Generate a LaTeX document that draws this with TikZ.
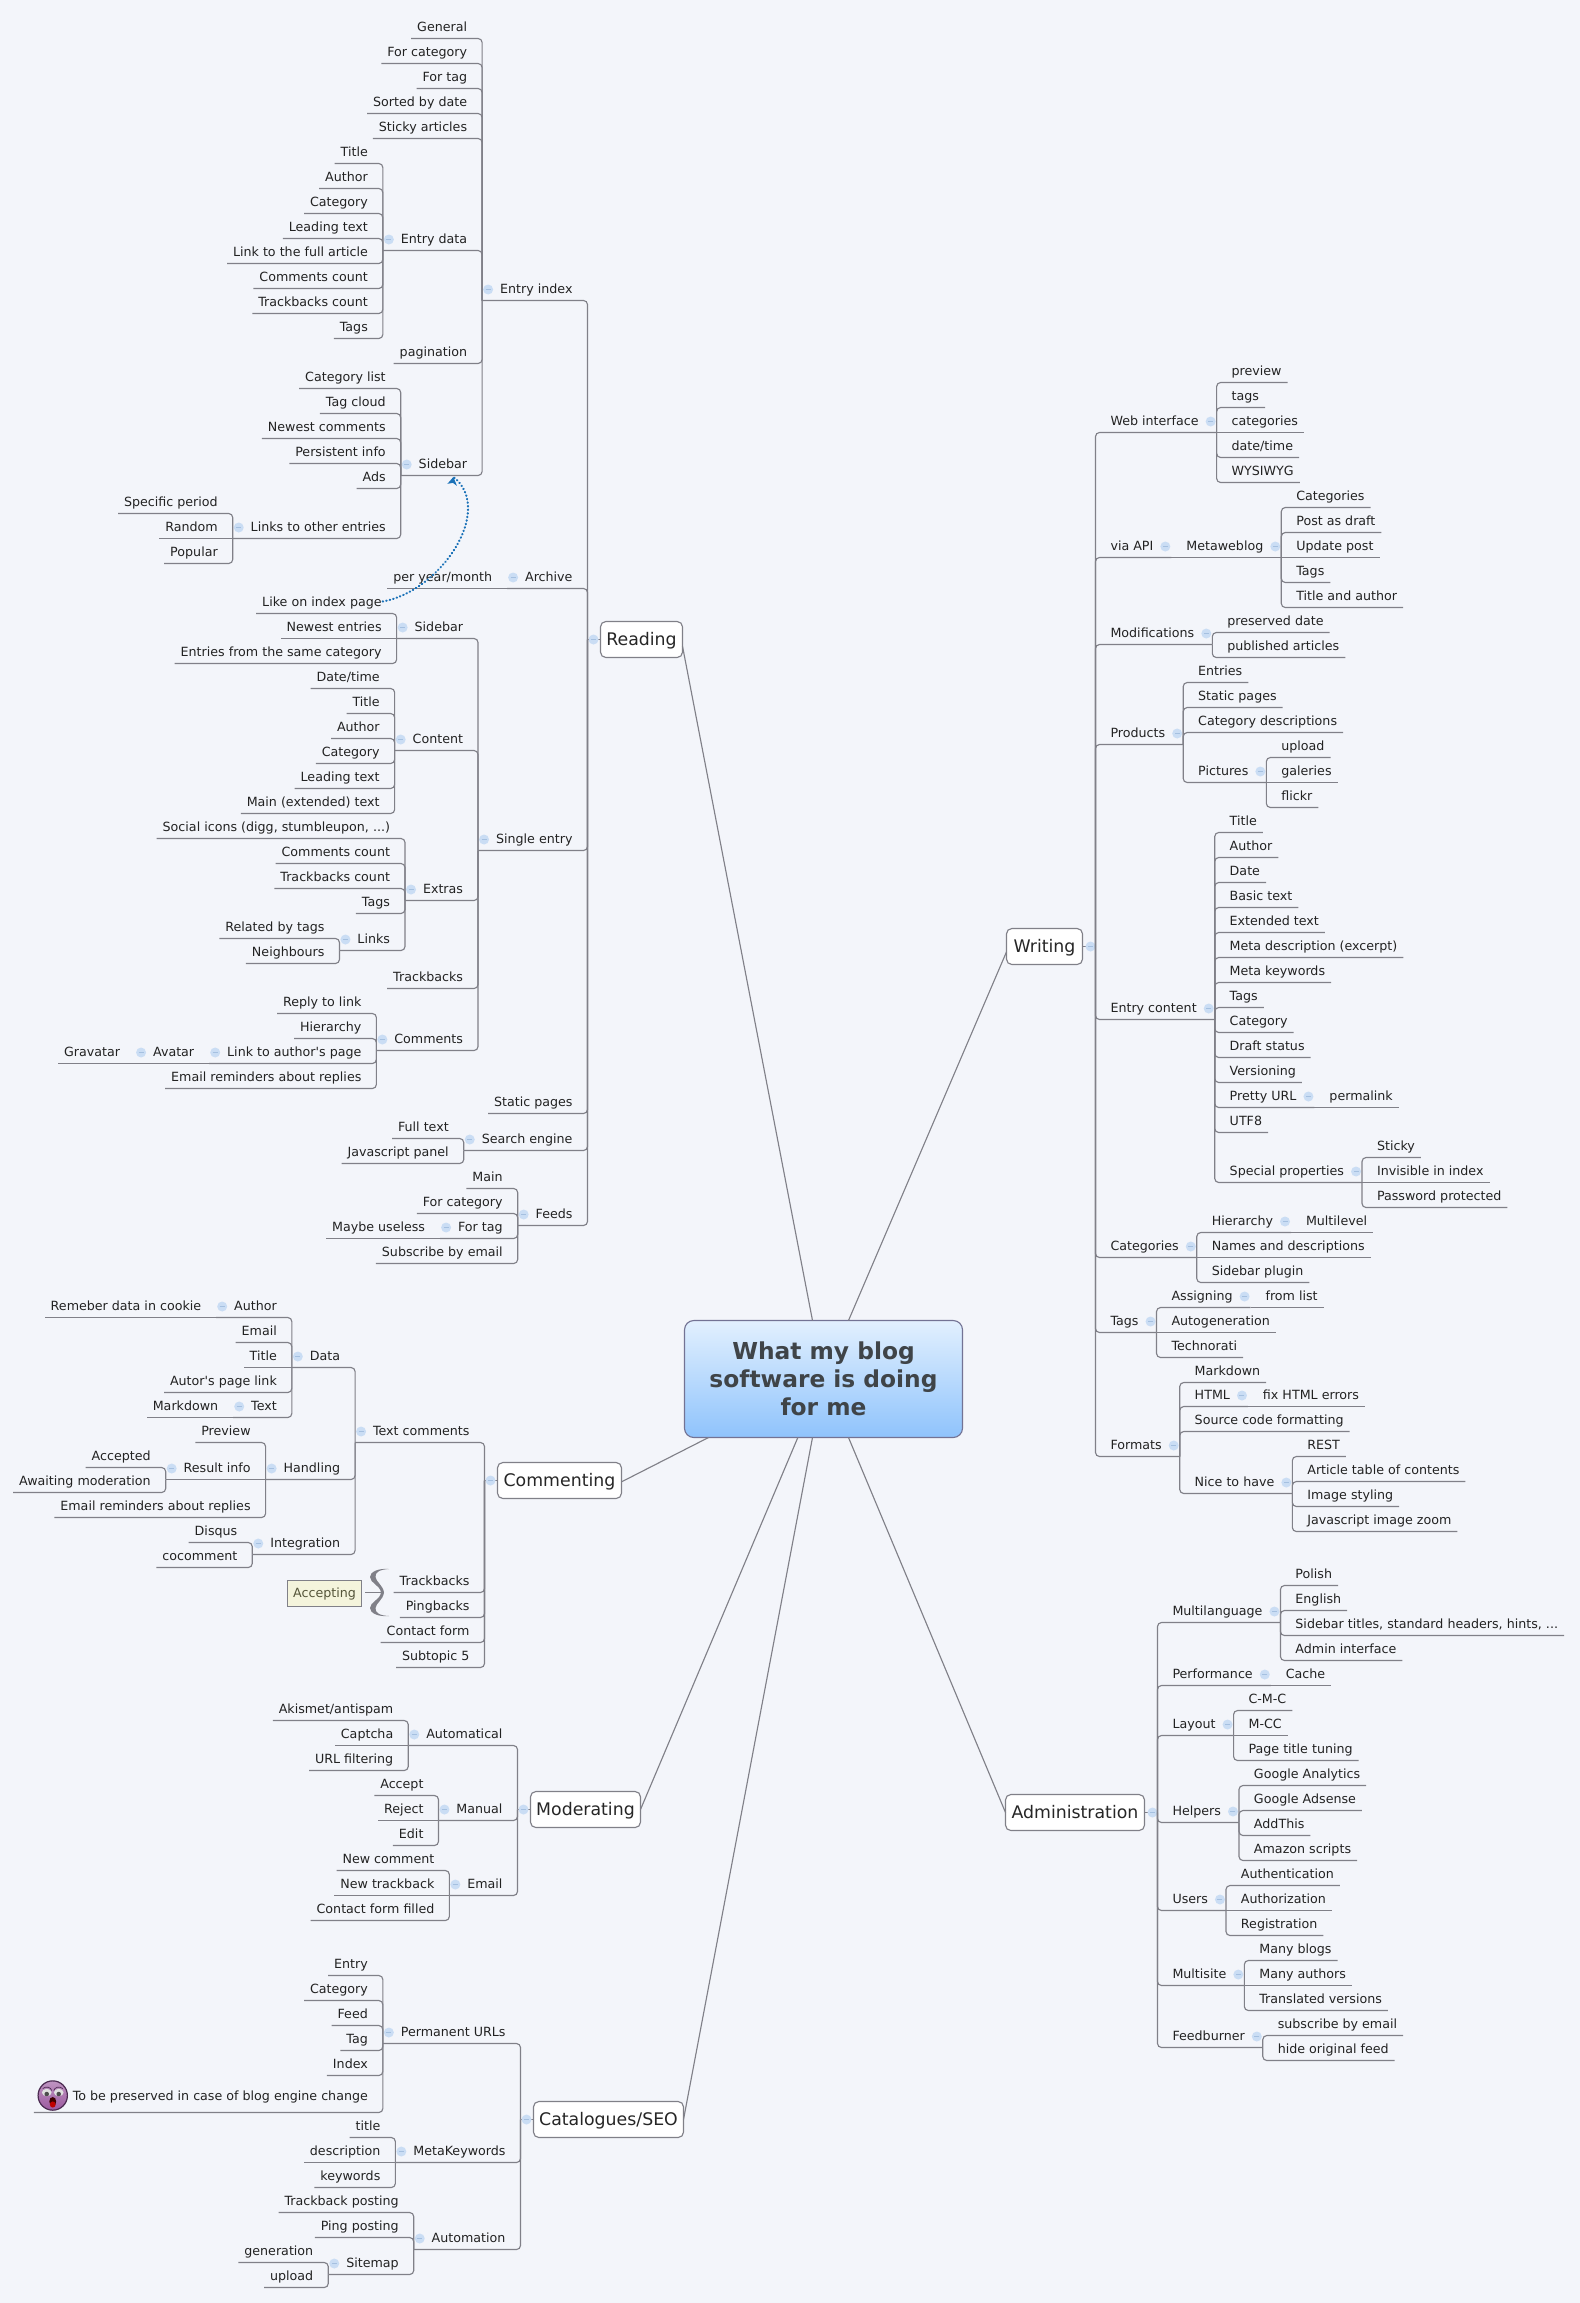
\documentclass[tikz,border=0pt]{standalone}
\usepackage{fontspec}
\setmainfont{DejaVu Sans}[Ligatures=TeXOff]
\usetikzlibrary{calc}
\definecolor{bgc}{HTML}{F3F5FA}
\definecolor{linec}{HTML}{808088}
\definecolor{txt}{HTML}{222222}
\definecolor{icn}{HTML}{CADDF4}
\definecolor{icm}{HTML}{A5C0E0}
\definecolor{arr}{HTML}{1B72B8}
\definecolor{rootT}{HTML}{E2F0FE}
\definecolor{rootB}{HTML}{8FC3FC}
\definecolor{rootx}{HTML}{3F4448}
\definecolor{calf}{HTML}{F4F4DC}
\definecolor{calx}{HTML}{55553A}
\definecolor{smf}{HTML}{9C5AA0}
\definecolor{smr}{HTML}{4A2A50}
\tikzset{
  conn/.style={draw=linec,line width=0.85pt,rounded corners=3pt},
  lf/.style={inner sep=0pt,outer sep=0pt,text height=10.5pt,text depth=5.25pt,font=\fontsize{9.5}{12}\selectfont,text=txt},
  pt/.style={inner sep=0pt,outer sep=0pt,minimum size=0pt},
  topb/.style={draw=linec,fill=white,line width=0.85pt,rounded corners=4pt,inner sep=0pt,outer sep=0pt,text height=10pt,text depth=1pt,font=\fontsize{13}{15}\selectfont,text=black!85},
  rootb/.style={draw=linec!90!blue,line width=0.85pt,rounded corners=7pt,top color=rootT,bottom color=rootB,inner sep=0pt,outer sep=0pt,align=center,font=\fontsize{17.5}{21}\selectfont\bfseries,text=rootx,minimum width=208.5pt,minimum height=87.75pt},
  callout/.style={draw=linec,fill=calf,line width=0.75pt,inner sep=0pt,outer sep=0pt,minimum width=55.5pt,minimum height=19.5pt,font=\fontsize{9.5}{12}\selectfont,text=calx},
}
\newdimen\dya \newdimen\dyb
% joint from a parent to a child: straight when both underlines are on one level
\newcommand{\joint}[3]{\pgfextracty\dya{\pgfpointanchor{#1}{#3}}\pgfextracty\dyb{\pgfpointanchor{#2}{#3}}\advance\dya by -\dyb
  \ifdim\dya<0pt \dya=-\dya\fi
  \ifdim\dya<0.3pt \draw[conn] (#1.#3) -- (#2.#3);\else \draw[conn] (#1.#3) |- (#2.#3);\fi}
% width of a node, rounded up to whole pixels: {text}{side spaces in pt}
\newcommand{\pxw}[2]{\sbox0{\fontsize{9.5}{12}\selectfont #1}\pgfmathsetmacro\nw{ceil((\the\wd0+#2)/0.75)*0.75}}
% left leaf / left parent / right leaf / right parent: {name}{parent}{y of underline}{text}
\newcommand{\tl}[4]{\node[lf,anchor=south east] (#1) at (#2.south west |- 0,#3+0.5) {\kern4.5pt #4\kern11.25pt};
  \joint{#2}{#1}{south west}}
\newcommand{\tr}[4]{\node[lf,anchor=south west] (#1) at (#2.south east |- 0,#3+0.5) {\kern11.25pt #4\kern4.5pt};
  \joint{#2}{#1}{south east}}
\newcommand{\pl}[4]{\pxw{#4}{24.75}\node[lf,anchor=south east,minimum width=\nw pt] (#1) at (#2.south west |- 0,#3+0.5) {\kern13.5pt #4\kern11.25pt};
  \joint{#2}{#1}{south west}
  \fill[icn] ($(#1.south west)+(6,-11)$) circle (3.75pt);
  \draw[icm,line width=0.5pt] ($(#1.south west)+(3.5,-11)$) -- ($(#1.south west)+(8.5,-11)$);}
\newcommand{\pr}[4]{\pxw{#4}{24.75}\node[lf,anchor=south west,minimum width=\nw pt] (#1) at (#2.south east |- 0,#3+0.5) {\kern11.25pt #4\kern13.5pt};
  \joint{#2}{#1}{south east}
  \fill[icn] ($(#1.south east)+(-6,-11)$) circle (3.75pt);
  \draw[icm,line width=0.5pt] ($(#1.south east)+(-3.5,-11)$) -- ($(#1.south east)+(-8.5,-11)$);}
\newcommand{\bic}[2]{\fill[icn] ($(#1)+(#2,0)$) circle (3.75pt);
  \draw[icm,line width=0.5pt] ($(#1)+(#2,0)+(-2.5,0)$) -- ($(#1)+(#2,0)+(2.5,0)$);}
\begin{document}
\begin{tikzpicture}[x=0.75pt,y=-0.75pt]
\useasboundingbox (0,0) rectangle (1580,2303);
\fill[bgc] (0,0) rectangle (1580,2303);
% root and main topics
\node[rootb] (root) at (823.5,1379) {What my blog\\software is doing\\for me};
\node[topb,minimum width=61.5pt,minimum height=27pt] (reading) at (641.5,639.5) {Reading};
\node[topb,minimum width=57pt,minimum height=27pt] (writing) at (1044.5,946.5) {Writing};
\node[topb,minimum width=93pt,minimum height=27pt] (commenting) at (559.5,1480.5) {Commenting};
\node[topb,minimum width=82.5pt,minimum height=27pt] (moderating) at (585.5,1809.5) {Moderating};
\node[topb,minimum width=112.5pt,minimum height=27pt] (catalogues) at (608.5,2119.5) {Catalogues/SEO};
\node[topb,minimum width=104.25pt,minimum height=27pt] (administration) at (1075,1812.5) {Administration};
\draw[conn] ([yshift=-5pt]reading.east) -- ([xshift=96pt]root.north west);
\draw[conn] ([yshift=-4pt]writing.west) -- ([xshift=123pt]root.north west);
\draw[conn] ([yshift=-1pt]commenting.east) -- ([xshift=18pt]root.south west);
\draw[conn] (moderating.east) -- ([xshift=85pt]root.south west);
\draw[conn] (catalogues.east) -- ([xshift=96pt]root.south west);
\draw[conn] (administration.west) -- ([xshift=123pt]root.south west);
% bars of the main topics
\node[pt] (Rb) at (587.5,639.5) {};
\node[pt] (Wb) at (1095.5,946.5) {};
\node[pt] (Cb) at (484.5,1480.5) {};
\node[pt] (Mb) at (517.5,1809.5) {};
\node[pt] (Sb) at (520.5,2119.5) {};
\node[pt] (Ab) at (1157.5,1812.5) {};
\draw[conn] (Rb) -- (reading.west); \bic{Rb}{6}
\draw[conn] (Wb) -- (writing.east); \bic{Wb}{-5}
\draw[conn] (Cb) -- (commenting.west); \bic{Cb}{6}
\draw[conn] (Mb) -- (moderating.west); \bic{Mb}{6}
\draw[conn] (Sb) -- (catalogues.west); \bic{Sb}{6}
\draw[conn] (Ab) -- (administration.east); \bic{Ab}{-5}
% Reading
\pl{ei}{Rb}{300}{Entry index}
\tl{ei1}{ei}{38}{General}
\tl{ei2}{ei}{63}{For category}
\tl{ei3}{ei}{88}{For tag}
\tl{ei4}{ei}{113}{Sorted by date}
\tl{ei5}{ei}{138}{Sticky articles}
\pl{ed}{ei}{250}{Entry data}
\tl{ed1}{ed}{163}{Title}
\tl{ed2}{ed}{188}{Author}
\tl{ed3}{ed}{213}{Category}
\tl{ed4}{ed}{238}{Leading text}
\tl{ed5}{ed}{263}{Link to the full article}
\tl{ed6}{ed}{288}{Comments count}
\tl{ed7}{ed}{313}{Trackbacks count}
\tl{ed8}{ed}{338}{Tags}
\tl{ei7}{ei}{363}{pagination}
\pl{sb}{ei}{475}{Sidebar}
\tl{sb1}{sb}{388}{Category list}
\tl{sb2}{sb}{413}{Tag cloud}
\tl{sb3}{sb}{438}{Newest comments}
\tl{sb4}{sb}{463}{Persistent info}
\tl{sb5}{sb}{488}{Ads}
\pl{lo}{sb}{538}{Links to other entries}
\tl{lo1}{lo}{513}{Specific period}
\tl{lo2}{lo}{538}{Random}
\tl{lo3}{lo}{563}{Popular}
\pl{ar}{Rb}{588}{Archive}
\tl{ar1}{ar}{588}{per year/month}
\pl{se}{Rb}{850}{Single entry}
\pl{ss}{se}{638}{Sidebar}
\tl{ss1}{ss}{613}{Like on index page}
\tl{ss2}{ss}{638}{Newest entries}
\tl{ss3}{ss}{663}{Entries from the same category}
\pl{co}{se}{750}{Content}
\tl{co1}{co}{688}{Date/time}
\tl{co2}{co}{713}{Title}
\tl{co3}{co}{738}{Author}
\tl{co4}{co}{763}{Category}
\tl{co5}{co}{788}{Leading text}
\tl{co6}{co}{813}{Main (extended) text}
\pl{ex}{se}{900}{Extras}
\tl{ex1}{ex}{838}{Social icons (digg, stumbleupon, ...)}
\tl{ex2}{ex}{863}{Comments count}
\tl{ex3}{ex}{888}{Trackbacks count}
\tl{ex4}{ex}{913}{Tags}
\pl{li}{ex}{950}{Links}
\tl{li1}{li}{938}{Related by tags}
\tl{li2}{li}{963}{Neighbours}
\tl{se4}{se}{988}{Trackbacks}
\pl{cm}{se}{1050}{Comments}
\tl{cm1}{cm}{1013}{Reply to link}
\tl{cm2}{cm}{1038}{Hierarchy}
\pl{cm3}{cm}{1063}{Link to author's page}
\pl{av}{cm3}{1063}{Avatar}
\tl{gr}{av}{1063}{Gravatar}
\tl{cm4}{cm}{1088}{Email reminders about replies}
\tl{sp}{Rb}{1113}{Static pages}
\pl{sg}{Rb}{1150}{Search engine}
\tl{sg1}{sg}{1138}{Full text}
\tl{sg2}{sg}{1163}{Javascript panel}
\pl{fe}{Rb}{1225}{Feeds}
\tl{fe1}{fe}{1188}{Main}
\tl{fe2}{fe}{1213}{For category}
\pl{fe3}{fe}{1238}{For tag}
\tl{fe31}{fe3}{1238}{Maybe useless}
\tl{fe4}{fe}{1263}{Subscribe by email}
\draw[arr,line width=1.6pt,dash pattern=on 0.4pt off 2.3pt,line cap=round] ([xshift=-10.5pt,yshift=9pt]ss1.south east) .. controls +(58,-10) and (495,510) .. ([xshift=9pt,yshift=-1pt]sb.south);
\fill[arr] ([xshift=9pt,yshift=-1pt]sb.south) -- +(3.5,9) -- +(-0.5,6) -- +(-6,7) -- cycle;
% Commenting
\pl{tc}{Cb}{1442}{Text comments}
\pl{da}{tc}{1367}{Data}
\pl{da1}{da}{1317}{Author}
\tl{da11}{da1}{1317}{Remeber data in cookie}
\tl{da2}{da}{1342}{Email}
\tl{da3}{da}{1367}{Title}
\tl{da4}{da}{1392}{Autor's page link}
\pl{da5}{da}{1417}{Text}
\tl{da51}{da5}{1417}{Markdown}
\pl{ha}{tc}{1479}{Handling}
\tl{ha1}{ha}{1442}{Preview}
\pl{ha2}{ha}{1479}{Result info}
\tl{ha21}{ha2}{1467}{Accepted}
\tl{ha22}{ha2}{1492}{Awaiting moderation}
\tl{ha3}{ha}{1517}{Email reminders about replies}
\pl{in}{tc}{1554}{Integration}
\tl{in1}{in}{1542}{Disqus}
\tl{in2}{in}{1567}{cocomment}
\tl{c2}{Cb}{1592}{Trackbacks}
\tl{c3}{Cb}{1617}{Pingbacks}
\tl{c4}{Cb}{1642}{Contact form}
\tl{c5}{Cb}{1667}{Subtopic 5}
\node[callout] (acc) at (324.5,1593.5) {Accepting};
\fill[linec] (389,1569) .. controls (378,1568) and (370,1572) .. (370,1577) .. controls (370,1583) and (380,1585) .. (381,1592.5) .. controls (380,1600) and (370,1602) .. (370,1608) .. controls (370,1613) and (378,1617) .. (389,1616) .. controls (380,1615.5) and (375,1613) .. (375.5,1608) .. controls (376,1603) and (383,1600) .. (384,1592.5) .. controls (383,1585) and (376,1582) .. (375.5,1577) .. controls (375,1572) and (380,1569.5) .. (389,1569) -- cycle;
\draw[linec,line width=0.8pt] (365,1592.5) -- (382,1592.5);
% Moderating
\pl{ma}{Mb}{1745}{Automatical}
\tl{ma1}{ma}{1720}{Akismet/antispam}
\tl{ma2}{ma}{1745}{Captcha}
\tl{ma3}{ma}{1770}{URL filtering}
\pl{mm}{Mb}{1820}{Manual}
\tl{mm1}{mm}{1795}{Accept}
\tl{mm2}{mm}{1820}{Reject}
\tl{mm3}{mm}{1845}{Edit}
\pl{me}{Mb}{1895}{Email}
\tl{me1}{me}{1870}{New comment}
\tl{me2}{me}{1895}{New trackback}
\tl{me3}{me}{1920}{Contact form filled}
% Catalogues
\pl{pu}{Sb}{2043}{Permanent URLs}
\tl{pu1}{pu}{1975}{Entry}
\tl{pu2}{pu}{2000}{Category}
\tl{pu3}{pu}{2025}{Feed}
\tl{pu4}{pu}{2050}{Tag}
\tl{pu5}{pu}{2075}{Index}
\node[lf,anchor=south east,text depth=9pt,text height=12pt] (pu6) at (pu.south west |- 0,2112.5) {\kern29.25pt To be preserved in case of blog engine change\kern11.25pt};
\joint{pu}{pu6}{south west}
\coordinate (smc) at ($(pu6.south west)+(19,-17)$);
\shade[top color=smf!65!white,bottom color=smf] (smc) circle (11pt);
\draw[smr,line width=0.9pt] (smc) circle (11pt);
\fill[black!12] ($(smc)+(-6,-3)$) ellipse (3.6pt and 2.8pt) ($(smc)+(6,-3)$) ellipse (3.6pt and 2.8pt);
\fill[black!70] ($(smc)+(-6,-1.5)$) circle (1.7pt) ($(smc)+(6,-1.5)$) circle (1.7pt);
\draw[smr,line width=0.5pt] ($(smc)+(-10,-7)$) .. controls ($(smc)+(-6,-10)$) and ($(smc)+(-2,-8)$) .. ($(smc)+(-1,-5)$);
\draw[smr,line width=0.5pt] ($(smc)+(10,-7)$) .. controls ($(smc)+(6,-10)$) and ($(smc)+(2,-8)$) .. ($(smc)+(1,-5)$);
\fill[black!75!red] ($(smc)+(0,6)$) ellipse (2.6pt and 3.4pt);
\fill[red!75!black] ($(smc)+(0,9)$) ellipse (2.2pt and 2.3pt);
\pl{mk}{Sb}{2162}{MetaKeywords}
\tl{mk1}{mk}{2137}{title}
\tl{mk2}{mk}{2162}{description}
\tl{mk3}{mk}{2187}{keywords}
\pl{au}{Sb}{2249}{Automation}
\tl{au1}{au}{2212}{Trackback posting}
\tl{au2}{au}{2237}{Ping posting}
\pl{au3}{au}{2274}{Sitemap}
\tl{au31}{au3}{2262}{generation}
\tl{au32}{au3}{2287}{upload}
% Writing
\pr{wi}{Wb}{432}{Web interface}
\tr{wi1}{wi}{382}{preview}
\tr{wi2}{wi}{407}{tags}
\tr{wi3}{wi}{432}{categories}
\tr{wi4}{wi}{457}{date/time}
\tr{wi5}{wi}{482}{WYSIWYG}
\pr{va}{Wb}{557}{via API}
\pr{mw}{va}{557}{Metaweblog}
\tr{mw1}{mw}{507}{Categories}
\tr{mw2}{mw}{532}{Post as draft}
\tr{mw3}{mw}{557}{Update post}
\tr{mw4}{mw}{582}{Tags}
\tr{mw5}{mw}{607}{Title and author}
\pr{mo}{Wb}{644}{Modifications}
\tr{mo1}{mo}{632}{preserved date}
\tr{mo2}{mo}{657}{published articles}
\pr{pd}{Wb}{744}{Products}
\tr{pd1}{pd}{682}{Entries}
\tr{pd2}{pd}{707}{Static pages}
\tr{pd3}{pd}{732}{Category descriptions}
\pr{pc}{pd}{782}{Pictures}
\tr{pc1}{pc}{757}{upload}
\tr{pc2}{pc}{782}{galeries}
\tr{pc3}{pc}{807}{flickr}
\pr{ec}{Wb}{1019}{Entry content}
\tr{ec1}{ec}{832}{Title}
\tr{ec2}{ec}{857}{Author}
\tr{ec3}{ec}{882}{Date}
\tr{ec4}{ec}{907}{Basic text}
\tr{ec5}{ec}{932}{Extended text}
\tr{ec6}{ec}{957}{Meta description (excerpt)}
\tr{ec7}{ec}{982}{Meta keywords}
\tr{ec8}{ec}{1007}{Tags}
\tr{ec9}{ec}{1032}{Category}
\tr{ec10}{ec}{1057}{Draft status}
\tr{ec11}{ec}{1082}{Versioning}
\pr{ec12}{ec}{1107}{Pretty URL}
\tr{ec121}{ec12}{1107}{permalink}
\tr{ec13}{ec}{1132}{UTF8}
\pr{ec14}{ec}{1182}{Special properties}
\tr{ec141}{ec14}{1157}{Sticky}
\tr{ec142}{ec14}{1182}{Invisible in index}
\tr{ec143}{ec14}{1207}{Password protected}
\pr{ca}{Wb}{1257}{Categories}
\pr{ca1}{ca}{1232}{Hierarchy}
\tr{ca11}{ca1}{1232}{Multilevel}
\tr{ca2}{ca}{1257}{Names and descriptions}
\tr{ca3}{ca}{1282}{Sidebar plugin}
\pr{tg}{Wb}{1332}{Tags}
\pr{tg1}{tg}{1307}{Assigning}
\tr{tg11}{tg1}{1307}{from list}
\tr{tg2}{tg}{1332}{Autogeneration}
\tr{tg3}{tg}{1357}{Technorati}
\pr{fo}{Wb}{1456}{Formats}
\tr{fo1}{fo}{1382}{Markdown}
\pr{fo2}{fo}{1406}{HTML}
\tr{fo21}{fo2}{1406}{fix HTML errors}
\tr{fo3}{fo}{1431}{Source code formatting}
\pr{fo4}{fo}{1493}{Nice to have}
\tr{fo41}{fo4}{1456}{REST}
\tr{fo42}{fo4}{1481}{Article table of contents}
\tr{fo43}{fo4}{1506}{Image styling}
\tr{fo44}{fo4}{1531}{Javascript image zoom}
% Administration
\pr{ml}{Ab}{1622}{Multilanguage}
\tr{ml1}{ml}{1585}{Polish}
\tr{ml2}{ml}{1610}{English}
\tr{ml3}{ml}{1635}{Sidebar titles, standard headers, hints, ...}
\tr{ml4}{ml}{1660}{Admin interface}
\pr{pf}{Ab}{1685}{Performance}
\tr{pf1}{pf}{1685}{Cache}
\pr{ly}{Ab}{1735}{Layout}
\tr{ly1}{ly}{1710}{C-M-C}
\tr{ly2}{ly}{1735}{M-CC}
\tr{ly3}{ly}{1760}{Page title tuning}
\pr{he}{Ab}{1822}{Helpers}
\tr{he1}{he}{1785}{Google Analytics}
\tr{he2}{he}{1810}{Google Adsense}
\tr{he3}{he}{1835}{AddThis}
\tr{he4}{he}{1860}{Amazon scripts}
\pr{us}{Ab}{1910}{Users}
\tr{us1}{us}{1885}{Authentication}
\tr{us2}{us}{1910}{Authorization}
\tr{us3}{us}{1935}{Registration}
\pr{ms}{Ab}{1985}{Multisite}
\tr{ms1}{ms}{1960}{Many blogs}
\tr{ms2}{ms}{1985}{Many authors}
\tr{ms3}{ms}{2010}{Translated versions}
\pr{fb}{Ab}{2047}{Feedburner}
\tr{fb1}{fb}{2035}{subscribe by email}
\tr{fb2}{fb}{2060}{hide original feed}
\end{tikzpicture}
\end{document}
